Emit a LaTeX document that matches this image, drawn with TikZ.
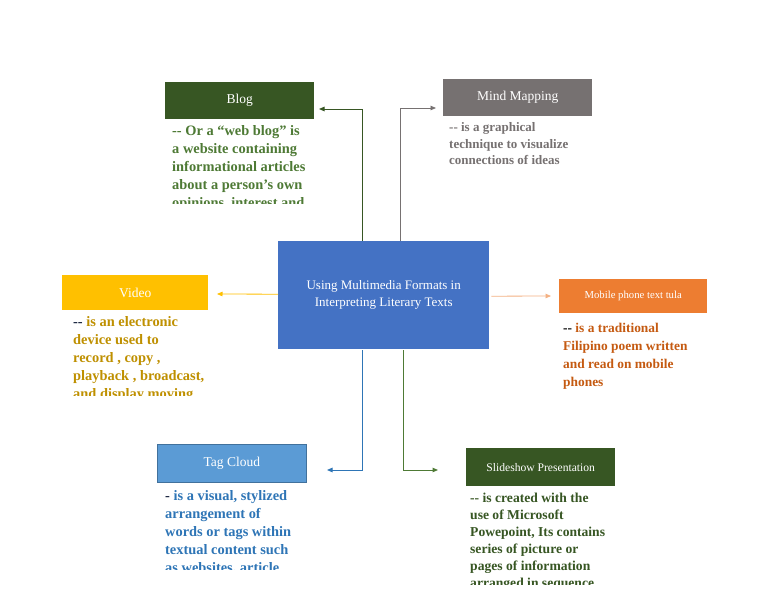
\documentclass[tikz,border=0pt]{standalone}
\usepackage{fontspec}
\setmainfont{Liberation Serif}[Ligatures=TeXOff]
\usetikzlibrary{arrows.meta}
\definecolor{dgreen}{HTML}{375623}
\definecolor{mgreen}{HTML}{4E7A35}
\definecolor{mgray}{HTML}{767171}
\definecolor{vyellow}{HTML}{FFC000}
\definecolor{vtext}{HTML}{BF9000}
\definecolor{cblue}{HTML}{4472C4}
\definecolor{morange}{HTML}{ED7D31}
\definecolor{mtext}{HTML}{C55A11}
\definecolor{tblue}{HTML}{5B9BD5}
\definecolor{tborder}{HTML}{41719C}
\definecolor{ttext}{HTML}{2E75B6}
\definecolor{larrow}{HTML}{F4B183}
\definecolor{darkdash}{HTML}{1F2A44}
\begin{document}
\begin{tikzpicture}[x=1pt,y=-1pt,
  hdr/.style={anchor=north west,inner sep=0pt,text=white,font=\fontsize{13.5}{16}\selectfont},
  desc/.style={anchor=north west,inner sep=0pt,align=left,font=\bfseries\fontsize{14.4}{18}\selectfont},
  conn/.style={line width=1pt,-{Triangle[length=5.5pt,width=4.5pt]}}]
\useasboundingbox (0,0) rectangle (768,594);
\fill[white] (0,0) rectangle (768,594);

% centre
\node[anchor=north west,inner sep=0pt,fill=cblue,minimum width=211pt,minimum height=108pt,
  text=white,align=center,font=\fontsize{13}{17}\selectfont] (c) at (278,241)
  {Using Multimedia Formats in\\Interpreting Literary Texts};

% Blog
\node[hdr,fill=dgreen,minimum width=149pt,minimum height=37pt] (blog) at (165,82) {\raisebox{-1.5pt}{Blog}};
\begin{scope}
\clip (160,121) rectangle (330,203);
\node[desc,text=mgreen] (blogt) at (172,125.5) {-- Or a “web blog” is\\a website containing\\informational articles\\about a person’s own\\opinions, interest and};
\end{scope}

% Mind Mapping
\node[hdr,fill=mgray,minimum width=149pt,minimum height=37pt] (mind) at (443,79) {\raisebox{-1.5pt}{Mind Mapping}};
\node[desc,text=mgray,font=\bfseries\fontsize{13}{16.5}\selectfont] (mindt) at (449,122.5) {-- is a graphical\\technique to visualize\\connections of ideas};

% Video
\node[hdr,fill=vyellow,minimum width=146pt,minimum height=35pt] (video) at (62,275) {Video};
\begin{scope}
\clip (60,313) rectangle (230,395);
\node[desc,text=vtext] (videot) at (73,316.5) {\textcolor{darkdash}{--} is an electronic\\device used to\\record , copy ,\\playback , broadcast,\\and display moving};
\end{scope}

% Mobile
\node[hdr,fill=morange,minimum width=148pt,minimum height=34pt,font=\fontsize{10.7}{12}\selectfont] (mobile) at (559,279) {Mobile phone text tula};
\node[desc,text=mtext,font=\bfseries\fontsize{13.4}{18}\selectfont] (mobilet) at (563,323.4) {\textcolor{black}{--} is a traditional\\Filipino poem written\\and read on mobile\\phones};

% Tag Cloud
\node[hdr,fill=tblue,draw=tborder,line width=0.6pt,minimum width=149pt,minimum height=38pt] (tag) at (157,444) {Tag Cloud};
\begin{scope}
\clip (155,487) rectangle (330,569);
\node[desc,text=ttext] (tagt) at (165,490.6) {\textcolor{darkdash}{-} is a visual, stylized\\arrangement of\\words or tags within\\textual content such\\as websites, article};
\end{scope}

% Slideshow
\node[hdr,fill=dgreen,minimum width=149pt,minimum height=38pt,font=\fontsize{11.6}{13}\selectfont] (slide) at (466,448) {Slideshow Presentation};
\begin{scope}
\clip (460,489) rectangle (640,584);
\node[desc,text=dgreen,font=\bfseries\fontsize{13.6}{17}\selectfont] (slidet) at (470,493) {-- is created with the\\use of Microsoft\\Powepoint, Its contains\\series of picture or\\pages of information\\arranged in sequence};
\end{scope}

% connectors
\coordinate (bl) at (319,109);
\coordinate (mi) at (436,108);
\coordinate (vi) at (217,294);
\coordinate (mo) at (551,296);
\coordinate (tg) at (327,470);
\coordinate (sl) at (438,470);
\draw[conn,dgreen] (c.north west) ++(84,0) |- (bl);
\draw[conn,mgray,line width=0.8pt] (c.north west) ++(122,0) |- (mi);
\draw[conn,vyellow,line width=0.8pt] (c.west) ++(0,-1) -- (vi);
\draw[conn,larrow,line width=0.8pt] (c.east) ++(2,1) -- (mo);
\draw[conn,ttext] (c.south west) ++(84,1) |- (tg);
\draw[conn,mgreen] (c.south west) ++(125,1) |- (sl);
\end{tikzpicture}
\end{document}
